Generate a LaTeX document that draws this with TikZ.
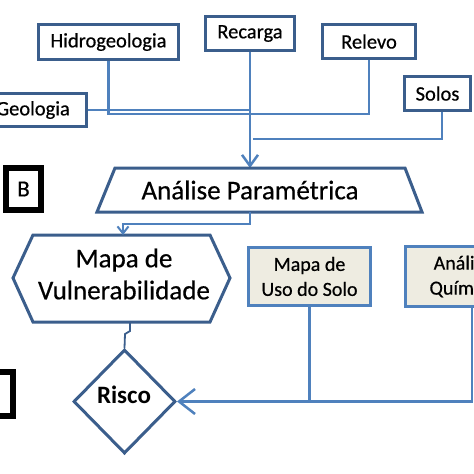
\documentclass[tikz,border=0pt]{standalone}
\usepackage{fontspec}
\setmainfont{Carlito}[UprightFeatures={FakeBold=0.5}]
\usetikzlibrary{arrows.meta,shapes.geometric}
\definecolor{boxc}{RGB}{59,94,140}
\definecolor{linec}{RGB}{79,129,189}
\definecolor{fillc}{RGB}{238,236,225}
\begin{document}
\begin{tikzpicture}[x=1pt,y=-1pt,
  tbox/.style={draw=boxc,line width=3pt,fill=white,inner sep=0pt,font=\fontsize{20.5}{24}\selectfont},
  gbox/.style={draw=linec,line width=3pt,fill=fillc,inner sep=0pt,align=center,font=\fontsize{20}{25}\selectfont},
  shp/.style={draw=boxc,line width=3pt,fill=white,line join=miter},
  conn/.style={draw=linec,line width=2.5pt},
  thin/.style={draw=linec,line width=2pt},
  bigtxt/.style={align=center,inner sep=0pt,font=\fontsize{27}{32}\selectfont},
  lbox/.style={draw=black,line width=6pt,inner sep=0pt,font=\fontsize{23}{27}\selectfont}]
\useasboundingbox (0,0) rectangle (474,474);
\clip (0,0) rectangle (474,474);
\fill[white] (0,0) rectangle (474,474);

% top boxes
\node[tbox,minimum width=140pt,minimum height=35pt] (hidro) at (108.5,42) {Hidrogeologia};
\node[tbox,minimum width=89pt,minimum height=34pt] (recarga) at (250,33.5) {Recarga};
\node[tbox,minimum width=93pt,minimum height=34pt] (relevo) at (369,41.5) {Relevo};
\node[tbox,minimum width=66pt,minimum height=34pt] (solos) at (437.5,93.5) {Solos};
\node[tbox,minimum width=107pt,minimum height=33pt] (geo) at (33,110) {Geologia};

% junction coordinates
\coordinate (jr) at (369,114);
\coordinate (sj) at (253,139);
\coordinate (anatop) at (250,168);
\coordinate (anab) at (250,212);
\coordinate (k1) at (250,224);
\coordinate (hextop) at (123,235);
\coordinate (hexb) at (130,322);
\coordinate (h1) at (130,331);
\coordinate (h2) at (125,334);

% connectors top
\draw[conn] (geo.east) -- (geo.east -| recarga.south);
\draw[conn] (hidro.south) |- (jr) -- (relevo.south);
\draw[conn] ([xshift=4.5pt]solos.south) |- (sj);
\draw[conn,-{Straight Barb[length=11pt,width=16pt]}] (recarga.south) -- (anatop);

% trapezoid
\draw[shp] (115,168) -- (405,168) -- (422,212) -- (97,212) -- cycle;
\node[bigtxt] (ana) at (250,190) {Análise Paramétrica};

% B label
\node[lbox,minimum width=35pt,minimum height=42pt] (B) at (23.5,189) {B};
\node[lbox,minimum width=35pt,minimum height=44pt] (C) at (-4.5,393.5) {};

% hexagon
\draw[shp] (13,278) -- (33,235) -- (210,235) -- (230,278) -- (210,322) -- (33,322) -- cycle;
\node[bigtxt] (vul) at (124,274) {Mapa de\\Vulnerabilidade};
\draw[thin,-{Straight Barb[length=7pt,width=11pt]}] (anab) -- (k1) -| (hextop);

% gray boxes
\node[gbox,minimum width=122pt,minimum height=58pt] (uso) at (309.5,276.5) {Mapa de\\Uso do Solo};
\node[gbox,minimum width=115pt,minimum height=60pt] (quim) at (463,276.5) {Análise\\Química};

% diamond
\node[diamond,draw=boxc,line width=3pt,fill=white,inner sep=0pt,minimum width=102pt,minimum height=104pt] (risco) at (124.5,401.5) {};
\node[inner sep=0pt,font=\bfseries\fontsize{25}{30}\selectfont] (riscot) at (124,395) {Risco};
\draw[draw=boxc,line width=1.8pt] (hexb) -- (h1) -- (h2) -- (risco.north);

% bottom connectors
\draw[conn] (uso.south) -- (uso.south |- risco.east);
\draw[conn,-{Straight Barb[length=16pt,width=25pt]}] ([xshift=9pt]quim.south) |- (risco.east);
\end{tikzpicture}
\end{document}
